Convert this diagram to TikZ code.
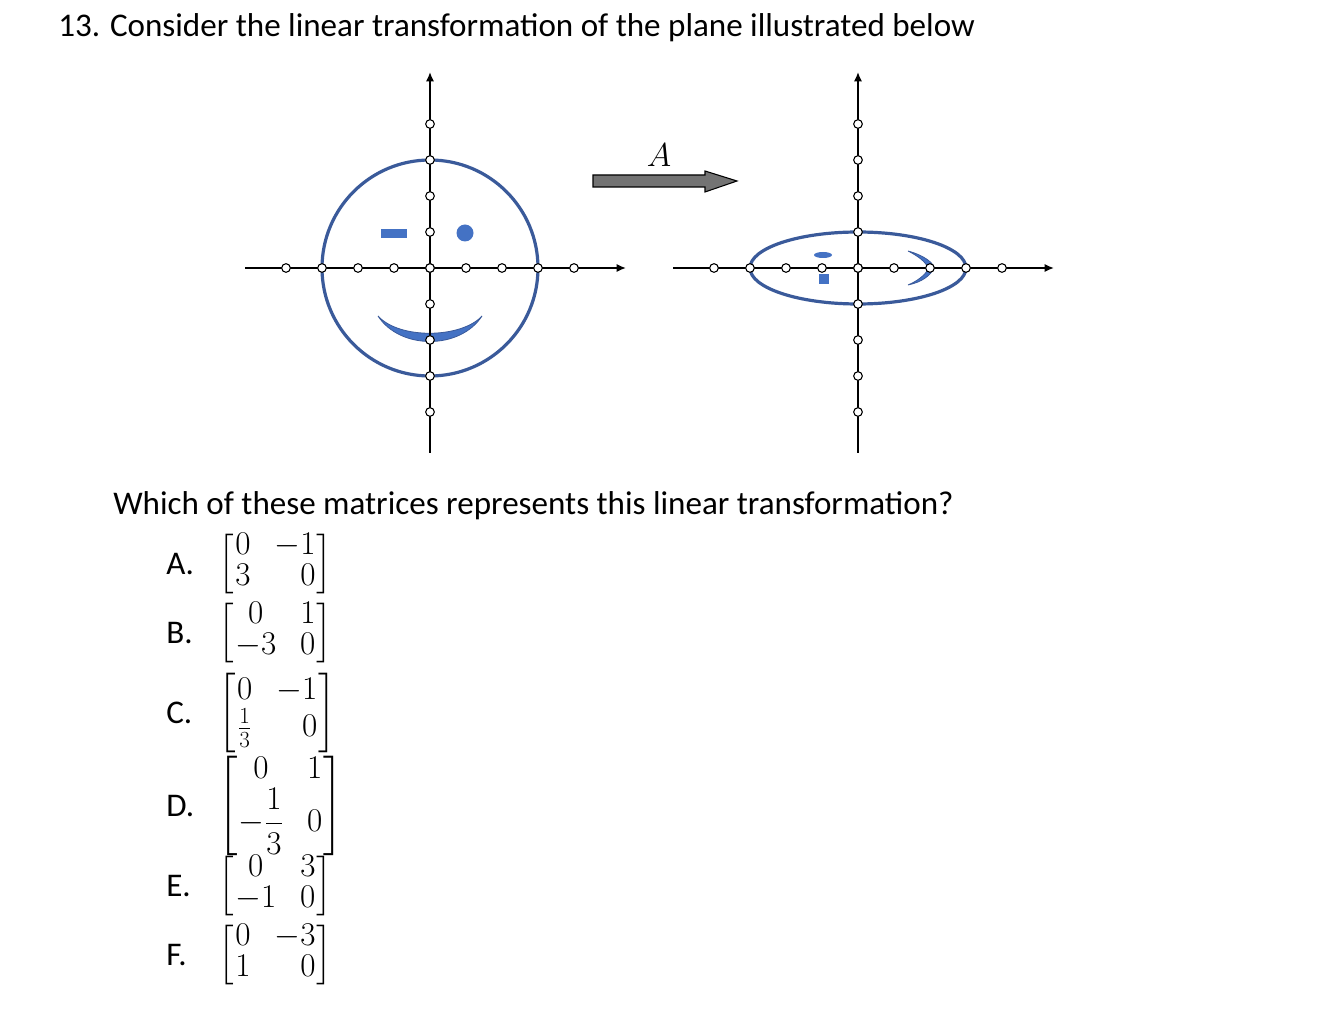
\documentclass[tikz,border=0pt]{standalone}
\usepackage{amsmath}
\usepackage{fontspec}
\setmainfont{Carlito}
\usetikzlibrary{arrows.meta}
\definecolor{rim}{HTML}{3A5A9A}
\definecolor{feat}{HTML}{4472C4}
\newcommand{\mymat}[1]{\left[\renewcommand{\arraystretch}{0.85}\setlength{\arraycolsep}{9pt}\begin{array}{@{\hspace{1pt}}cr@{\hspace{1pt}}}#1\end{array}\right]}
\begin{document}
\begin{tikzpicture}[x=0.75pt,y=-0.75pt,
  axis/.style={line width=1.2pt,-{Latex[length=7pt,width=6pt]}},
  tick/.style={circle,draw,fill=white,inner sep=0pt,minimum size=6.5pt,line width=0.8pt},
  rimline/.style={draw=rim,line width=2.4pt},
  txt/.style={anchor=west,font=\fontsize{24.8}{29}\selectfont,inner sep=0pt},
  mat/.style={anchor=west,font=\fontsize{23}{27}\selectfont,inner sep=0pt}]
\useasboundingbox (0,0) rectangle (1322,1012);
\node[txt] (title) at (58,28) {13. Consider the linear transformation of the plane illustrated below};
% left
\draw[rimline] (430,268) circle (108);
\fill[feat] (381,229) rectangle (407,238);
\fill[feat] (465,233) circle (8.5);
\fill[feat,draw=rim,line width=0.6pt] (378,316) .. controls (400,350) and (460,350) .. (482,316) .. controls (462,338) and (400,340) .. (378,316) -- cycle;
\coordinate (lw) at (245,268); \coordinate (le) at (626,268);
\coordinate (ls) at (430,453); \coordinate (ln) at (430,72);
\draw[axis] (lw) -- (le);
\draw[axis] (ls) -- (ln);
\foreach \i in {-4,...,4} {\node[tick] (lx\i) at (430+36*\i,268) {}; \node[tick] (ly\i) at (430,268+36*\i) {};}
% right
\draw[rimline] (858,268) ellipse (108 and 36);
\fill[feat] (823,255) ellipse (9 and 3);
\fill[feat] (819,274) rectangle (829,284);
\fill[feat,draw=rim,line width=0.6pt] (908,251) .. controls (926,256) and (934,264) .. (934,268) .. controls (930,276) and (922,282) .. (908,285) .. controls (920,280) and (928,272) .. (928,268) .. controls (926,262) and (918,256) .. (908,251) -- cycle;
\coordinate (rw) at (673,268); \coordinate (re) at (1054,268);
\coordinate (rs) at (858,453); \coordinate (rn) at (858,72);
\draw[axis] (rw) -- (re);
\draw[axis] (rs) -- (rn);
\foreach \i in {-4,...,4} {\node[tick] (rx\i) at (858+36*\i,268) {}; \node[tick] (ry\i) at (858,268+36*\i) {};}
% arrow
\draw[fill=gray!90!black,line width=0.8pt] (593,175) -- (705,175) -- (705,171) -- (737,181) -- (705,192) -- (705,187) -- (593,187) -- cycle;
\node[font=\fontsize{24}{28}\selectfont] (lab) at (659,155) {$A$};
\node[txt] (q) at (113,506) {Which of these matrices represents this linear transformation?};
\foreach \l/\y/\m in {A/564/{0&-1\\3&0},
  B/633/{0&1\\-3&0},
  C/713/{0&-1\\\frac{1}{3}&0},
  D/806/{0&1\\-\dfrac{1}{3}&0},
  E/886/{0&3\\-1&0},
  F/955/{0&-3\\1&0}}
{ \node[txt] (opt\l) at (166,\y) {\l.};
  \node[mat] (m\l) at (218,\y) {$\mymat{\m}$}; }
\end{tikzpicture}
\end{document}
